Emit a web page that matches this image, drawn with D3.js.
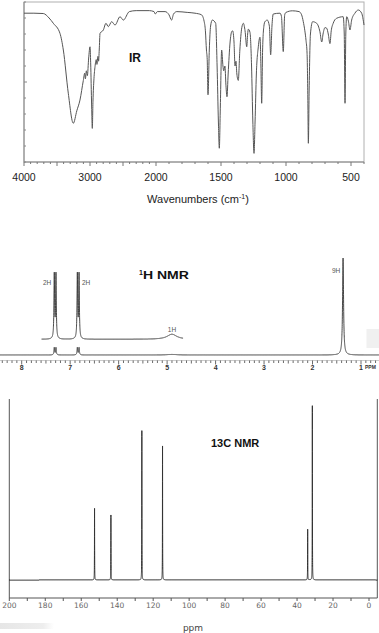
<!DOCTYPE html>
<html><head><meta charset="utf-8">
<script src="https://cdn.jsdelivr.net/npm/d3@7"></script>
<style>body{margin:0;background:#fff}svg{display:block}</style>
</head><body>
<script>
// ---------- IR spectrum (wavenumber cm-1, % transmittance) ----------
const irWavenumber = [4000,3850,3708,3620,3556,3455,3404,3329,3253,3200,3152,3101,3080,3070,3055,3040,3020,3000,2990,2975,2965,2955,2940,2924,2905,2895,2880,2870,2860,2848,2798,2758,2723,2671,2621,2545,2495,2404,2300,2100,2030,2010,1990,1930,1900,1880,1865,1840,1760,1700,1650,1630,1620,1612,1606,1600,1590,1580,1567,1541,1530,1520,1513,1505,1495,1485,1479,1470,1462,1454,1445,1430,1418,1410,1400,1392,1385,1378,1367,1355,1340,1328,1315,1302,1295,1290,1277,1265,1255,1246,1238,1228,1213,1205,1200,1193,1187,1180,1170,1162,1144,1128,1118,1108,1098,1046,1035,1021,1010,1000,950,900,880,867,855,846,838,832,828,822,812,795,764,739,725,715,700,687,675,662,652,637,611,560,552,546,540,533,520,508,495,470,444,418,400];
const irTransmittance = [93,93,92.8,90,86.7,80.4,70,43,24.2,32,38.7,51,55.5,52,57,54,65,72,62,35,21,38,52,59.6,64,61,66,63,70,80.4,82.5,86.7,84.6,87.7,85.6,90.8,88.7,94,94.6,94.6,94,92.5,94,94,92,88.7,92.5,94,93.5,93,92,88,82,70,64,42,70,85,88.7,86.7,60,25,8.6,35,70,60,57,60,48,40.8,55,75,81.4,82,75,60,63,55,51,70,84,86.7,82,72,80,83,81,60,25,5.4,25,55,72,77,78,60,36.7,70,85,87.7,88.7,85,67,85,92.5,93,91,69,92,93.5,94.5,94,92,87.7,82,76,68,40,11.7,45,80,87.7,86.7,81.4,75,80,84,83.6,80,74,82,86.7,89.8,90.8,80,36.7,80,90.8,88,82.5,88.7,93,95,93,85.6];
const irTickLabels = [4000,3000,2000,1500,1000,500];

// ---------- 1H NMR (ppm, relative intensity, half-width) ----------
const hPeakPpm       = [7.328, 7.293, 6.852, 6.817, 4.90, 1.37];
const hPeakIntensity = [7.6,   7.6,   7.6,   7.6,   0.6,  100];
const hPeakWidth     = [0.008, 0.008, 0.008, 0.008, 0.12, 0.012];
const hInsetRange = [7.59, 4.67];
const hInsetGain = 8.67;
const hTickLabels = [8,7,6,5,4,3,2,1];
const hIntegrals = [{t:"2H", ppm:7.31, lvl:"inset"},{t:"2H", ppm:6.835, lvl:"inset"},{t:"1H", ppm:4.90, lvl:"insetLow"},{t:"9H", ppm:1.37, lvl:"main"}];

// ---------- 13C NMR ----------
const cPeakPpm       = [152.6, 143.5, 126.3, 114.8, 34.1, 31.5];
const cPeakIntensity = [41.1,  37.3,  85.7,  76.9,  29.1, 100];
const cTickLabels = [200,180,160,140,120,100,80,60,40,20,0];

const W = 379, H = 633;
const svg = d3.select("body").append("svg").attr("width", W).attr("height", H)
  .style("font-family", "'Liberation Sans', Arial, sans-serif");

function lineshape(p, ppms, ints, gams) {
  let s = 0;
  for (let i = 0; i < ppms.length; i++) { const d = (p - ppms[i]) / gams[i]; s += ints[i] / (1 + d * d); }
  return s;
}

// ================= IR =================
const xIR = d3.scaleLinear().domain([4000, 2000, 400]).range([24, 156, 364]);
const yIR = d3.scaleLinear().domain([0, 100]).range([162, 2]);
const gIR = svg.append("g");
gIR.append("rect").attr("x", 24).attr("y", 2).attr("width", 340).attr("height", 160)
  .attr("fill", "none").attr("stroke", "#b0b0b0").attr("stroke-width", 1);
gIR.append("line").attr("x1", 24).attr("x2", 24).attr("y1", 2).attr("y2", 162).attr("stroke", "#888");
gIR.append("line").attr("x1", 24).attr("x2", 364).attr("y1", 162).attr("y2", 162).attr("stroke", "#888");
gIR.selectAll(".ly").data(d3.range(0, 101, 10)).join("line")
  .attr("x1", 24).attr("x2", d => d === 50 ? 27 : 26).attr("y1", d => yIR(d)).attr("y2", d => yIR(d))
  .attr("stroke", "#888");
gIR.selectAll(".mx").data(d3.range(400, 4001, 100)).join("line")
  .attr("x1", d => xIR(d)).attr("x2", d => xIR(d)).attr("y1", 162)
  .attr("y2", d => d % 500 === 0 ? 166 : 164).attr("stroke", "#777");
gIR.selectAll(".tl").data(irTickLabels).join("text")
  .attr("x", d => xIR(d)).attr("y", 181).attr("text-anchor", "middle")
  .attr("font-size", 10.5).attr("fill", "#222").text(d => d);
const wl = gIR.append("text").attr("x", 198).attr("y", 203).attr("text-anchor", "middle")
  .attr("font-size", 11).attr("fill", "#222");
wl.append("tspan").text("Wavenumbers (cm");
wl.append("tspan").attr("font-size", 7).attr("dy", -4).text("-1");
wl.append("tspan").attr("dy", 4).text(")");
gIR.append("text").attr("x", 129).attr("y", 62).attr("font-size", 12).attr("font-weight", "bold")
  .attr("fill", "#111").text("IR");
const irData = irWavenumber.map((w, i) => [w, irTransmittance[i]]);
gIR.append("path").datum(irData)
  .attr("d", d3.line().x(d => xIR(d[0])).y(d => yIR(d[1])).curve(d3.curveMonotoneX))
  .attr("fill", "none").attr("stroke", "#555").attr("stroke-width", 1);

// ================= 1H NMR =================
const xH = d3.scaleLinear().domain([8, 1]).range([21.7, 361]);
const yH = d3.scaleLinear().domain([0, 100]).range([355, 258]);
const yHi = d3.scaleLinear().domain([0, 100]).range([339.3, 339.3 - 97 * hInsetGain]);
const gH = svg.append("g");
gH.append("rect").attr("x", 366.5).attr("y", 329).attr("width", 12.5).attr("height", 19).attr("fill", "#f0f0f0");
const mainPts = d3.range(xH.invert(0), xH.invert(W), -0.001).map(p => [p, lineshape(p, hPeakPpm, hPeakIntensity, hPeakWidth)]);
gH.append("path").datum(mainPts)
  .attr("d", d3.line().x(d => xH(d[0])).y(d => yH(d[1])))
  .attr("fill", "none").attr("stroke", "#333").attr("stroke-width", 0.9);
const insetPts = d3.range(hInsetRange[0], hInsetRange[1], -0.001).map(p => [p, lineshape(p, hPeakPpm, hPeakIntensity, hPeakWidth)]);
gH.append("path").datum(insetPts)
  .attr("d", d3.line().x(d => xH(d[0])).y(d => yHi(d[1])))
  .attr("fill", "none").attr("stroke", "#333").attr("stroke-width", 0.9);
// ruler
gH.append("line").attr("x1", 0).attr("x2", W).attr("y1", 360.5).attr("y2", 360.5).attr("stroke", "#aaa").attr("stroke-width", 0.6);
gH.selectAll(".ht").data(d3.range(0, 85, 1).map(k => k / 10)).join("line")
  .attr("x1", d => xH(d)).attr("x2", d => xH(d)).attr("y1", 360.5)
  .attr("y2", d => Math.abs(d - Math.round(d)) < 1e-6 ? 364.5 : (Math.abs(d * 2 - Math.round(d * 2)) < 1e-6 ? 363.5 : 363))
  .attr("stroke", "#444").attr("stroke-width", 0.8);
gH.selectAll(".hl").data(hTickLabels).join("text")
  .attr("x", d => xH(d)).attr("y", 369.5).attr("text-anchor", "middle")
  .attr("font-size", 7).attr("font-weight", "bold").attr("fill", "#333").text(d => d);
gH.append("text").attr("x", 365).attr("y", 369).attr("font-size", 5).attr("font-weight", "bold").attr("fill", "#333").text("PPM");
gH.selectAll(".hi").data(hIntegrals).join("text")
  .attr("x", d => xH(d.ppm) + (d.t === "2H" ? (d.ppm > 7 ? -8 : 8) : (d.t === "9H" ? -7 : 0)))
  .attr("y", d => d.lvl === "inset" ? 284.5 : (d.lvl === "insetLow" ? 331.5 : 272.5))
  .attr("text-anchor", "middle").attr("font-size", 6.5).attr("fill", "#555").text(d => d.t);
const ht = gH.append("text").attr("x", 139).attr("y", 278.5).attr("font-size", 10).attr("font-weight", "bold").attr("fill", "#111");
ht.append("tspan").attr("font-size", 7).attr("dy", -4).text("1");
ht.append("tspan").attr("dy", 4).attr("textLength", 46).attr("lengthAdjust", "spacingAndGlyphs").text("H NMR");

// ================= 13C NMR =================
const xC = d3.scaleLinear().domain([200, 0]).range([9.3, 369]);
const yC = d3.scaleLinear().domain([0, 100]).range([580, 405.7]);
const gC = svg.append("g");
const xL = 9.3, xR = 377.3, yTop = 399, yBot = 598;
gC.append("line").attr("x1", xL).attr("x2", xL).attr("y1", yTop).attr("y2", yBot).attr("stroke", "#555");
gC.append("line").attr("x1", xR).attr("x2", xR).attr("y1", yTop).attr("y2", yBot).attr("stroke", "#555");
gC.append("line").attr("x1", xL).attr("x2", xR).attr("y1", yBot).attr("y2", yBot).attr("stroke", "#555");
gC.selectAll(".ct").data(d3.range(0, 201, 10)).join("line")
  .attr("x1", d => xC(d)).attr("x2", d => xC(d)).attr("y1", yBot).attr("y2", yBot + 3).attr("stroke", "#555");
gC.selectAll(".cl").data(cTickLabels).join("text")
  .attr("x", d => xC(d)).attr("y", 608).attr("text-anchor", "middle")
  .attr("font-family", "'DejaVu Sans', sans-serif")
  .attr("font-size", 7.5).attr("fill", "#666").text(d => d);
gC.append("text").attr("x", 193).attr("y", 631).attr("text-anchor", "middle")
  .attr("font-family", "'DejaVu Sans', sans-serif").attr("font-size", 9).attr("fill", "#444").text("ppm");
const grad = svg.append("defs").append("linearGradient").attr("id", "fade");
grad.append("stop").attr("offset", "0%").attr("stop-color", "#e6e6e6");
grad.append("stop").attr("offset", "80%").attr("stop-color", "#eeeeee");
grad.append("stop").attr("offset", "100%").attr("stop-color", "#ffffff");
gC.append("rect").attr("x", 0).attr("y", 623).attr("width", 54).attr("height", 6).attr("fill", "url(#fade)");
const cPts = d3.range(xC.invert(xL), xC.invert(xR), -0.01).map(p => [p, lineshape(p, cPeakPpm, cPeakIntensity, cPeakPpm.map(() => 0.05))]);
gC.append("path").datum(cPts)
  .attr("d", d3.line().x(d => xC(d[0])).y(d => yC(d[1])))
  .attr("fill", "none").attr("stroke", "#333").attr("stroke-width", 1);
gC.append("text").attr("x", 211).attr("y", 447).attr("font-size", 11).attr("font-weight", "bold").attr("fill", "#111").text("13C NMR");
</script>
</body></html>
